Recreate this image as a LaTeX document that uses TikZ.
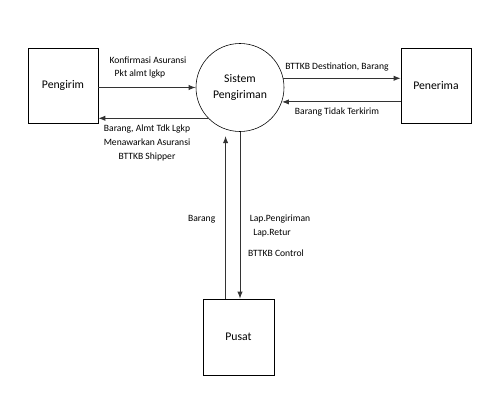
\documentclass[tikz,border=0pt]{standalone}
\usepackage{fontspec}
\setmainfont{Carlito}
\usetikzlibrary{arrows.meta}
\tikzset{
    entity/.style={draw, line width=0.5pt, minimum width=2.1cm, minimum height=2.25cm,
        font=\fontsize{10}{12}\selectfont},
    process/.style={draw, circle, line width=0.5pt, minimum size=2.64cm, inner sep=0pt,
        align=center, font=\fontsize{10}{14}\selectfont},
    flow/.style={-{Latex[length=6pt, width=4.5pt]}, line width=0.8pt, black!80},
    lbl/.style={font=\fontsize{8.2}{11.9}\selectfont, align=center, inner sep=1pt}
}

\begin{document}
\begin{tikzpicture}[x=0.03cm, y=-0.03cm]
        \useasboundingbox (0, 0) rectangle (500, 400);
        \node[entity] (pengirim) at (63, 85.5) {Pengirim};
        \node[process] (sistem) at (240, 87.5) {Sistem\\Pengiriman};
        \node[entity] (penerima) at (436, 85.5) {Penerima};
        \node[entity, minimum width=2.13cm, minimum height=2.28cm] (pusat) at (238.5, 337) {Pusat};
        % arus data kiri
        \draw[flow] (pengirim.east |- sistem.west) -- (sistem.west);
        \draw[flow] (sistem.224) -- (pengirim.east |- sistem.224);
        \node[lbl] (konfirmasi) at (148, 60) {Konfirmasi Asuransi};
        \node[lbl] (pkt) at (140, 74) {Pkt almt lgkp};
        \node[lbl] (kembali) at (147, 143) {Barang, Almt Tdk Lgkp\\Menawarkan Asuransi\\BTTKB Shipper};
        % arus data kanan
        \draw[flow] (sistem.12.5) -- (penerima.west |- sistem.12.5);
        \draw[flow] (penerima.west |- sistem.-19) -- (sistem.-19);
        \node[lbl] (destination) at (337, 66.7) {BTTKB Destination, Barang};
        \node[lbl] (terkirim) at (337, 111.7) {Barang Tidak Terkirim};
        % arus data bawah
        \draw[flow, shorten >=0.2cm] (pusat.north -| sistem.251) -- (sistem.251);
        \draw[flow] (sistem.south) -- (pusat.north -| sistem.south);
        \node[lbl] (barang) at (201.7, 219) {Barang};
        \node[lbl] (lappengiriman) at (280, 219) {Lap.Pengiriman};
        \node[lbl] (lapretur) at (272, 233) {Lap.Retur};
        \node[lbl] (control) at (276, 253) {BTTKB Control};
    \end{tikzpicture}
\end{document}
